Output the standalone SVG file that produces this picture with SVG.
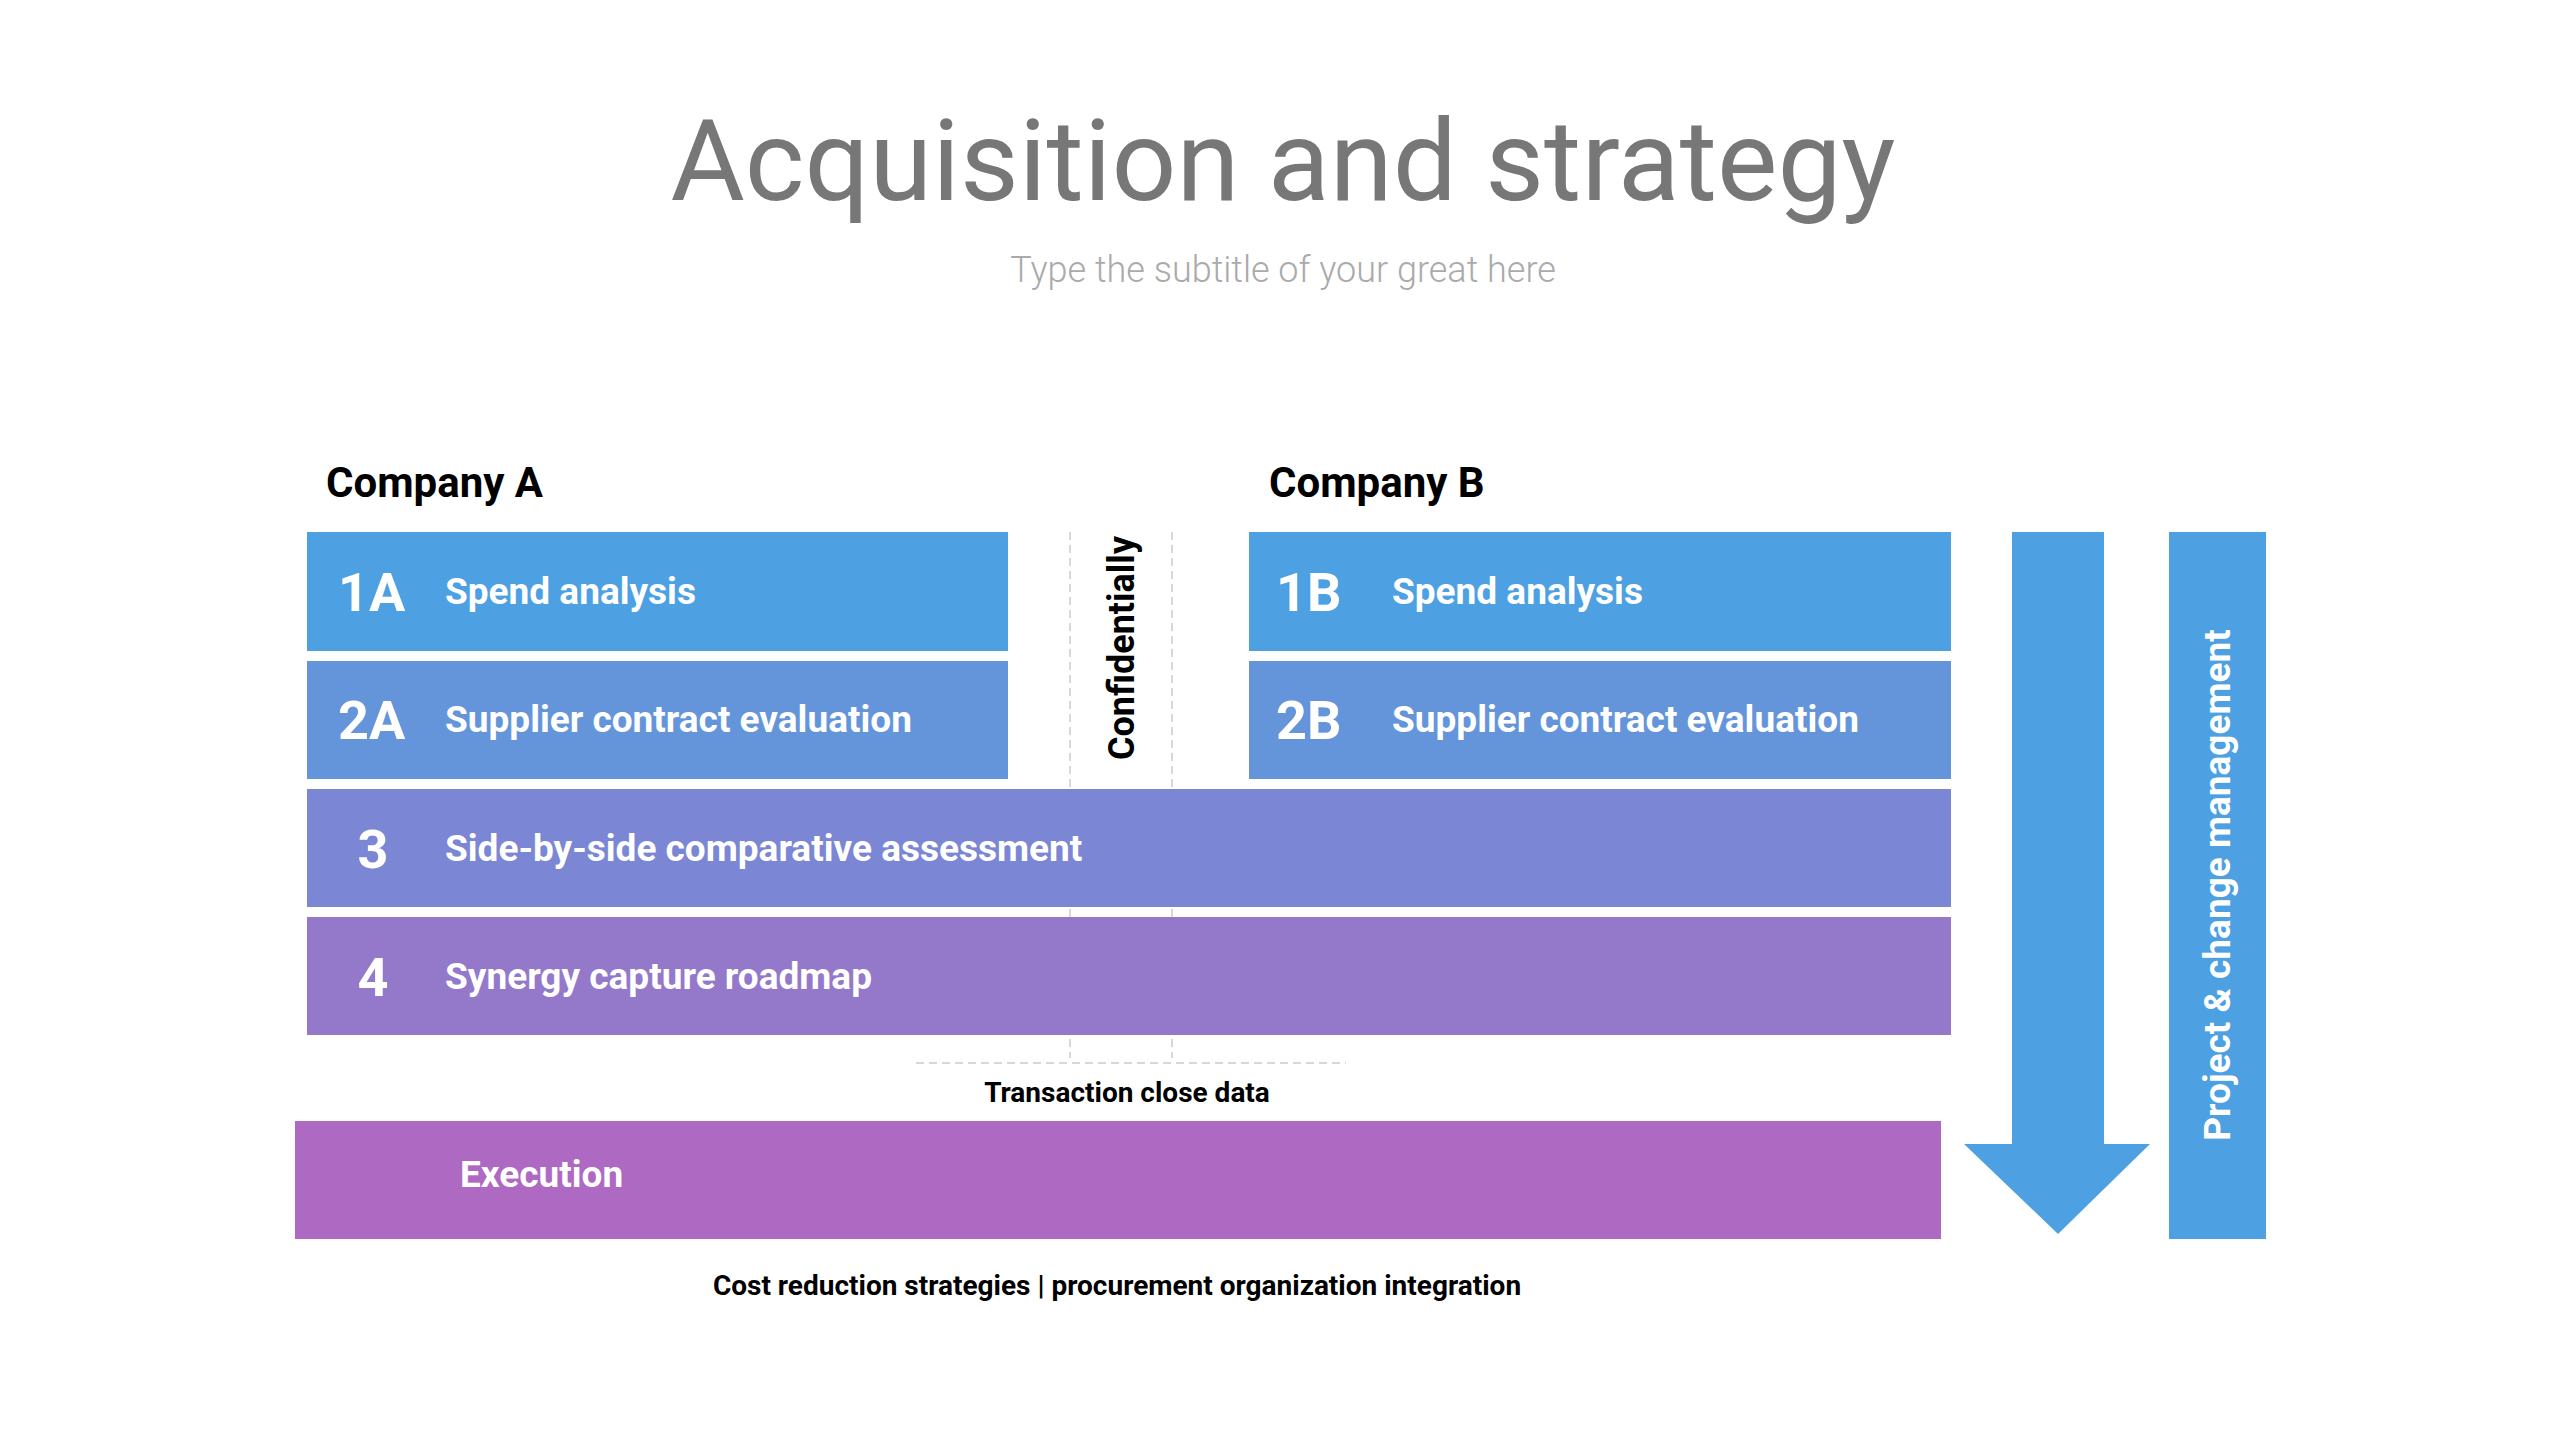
<svg xmlns="http://www.w3.org/2000/svg" width="2560" height="1440" viewBox="0 0 2560 1440">
<style>
.t{font-family:Roboto,"Liberation Sans",sans-serif}
.num{font-family:Roboto,sans-serif;font-weight:700;font-size:54px;fill:#fff}
.lbl{font-family:Roboto,sans-serif;font-weight:700;font-size:37px;fill:#fff}
.dash{stroke:#ccc;stroke-width:1.5;stroke-dasharray:8 5;fill:none}
</style>
<rect width="2560" height="1440" fill="#fff"/>
<text class="t" x="1283" y="200" text-anchor="middle" font-size="114" fill="#777">Acquisition and strategy</text>
<text class="t" x="1283" y="282" text-anchor="middle" font-size="36" fill="#aaa" font-weight="300">Type the subtitle of your great here</text>
<text class="t" x="326" y="497" font-size="42" font-weight="700" fill="#000">Company A</text>
<text class="t" x="1269" y="497" font-size="42" font-weight="700" fill="#000">Company B</text>
<g id="connectors">
<line class="dash" x1="1070" y1="532" x2="1070" y2="1058"/>
<line class="dash" x1="1172" y1="532" x2="1172" y2="1058"/>
<line class="dash" x1="916" y1="1063" x2="1346" y2="1063"/>
</g>
<g id="n1A"><rect x="307" y="532" width="701" height="119" fill="#4DA1E3"/><text class="num" x="338" y="611">1A</text><text class="lbl" x="445" y="604">Spend analysis</text></g>
<g id="n2A"><rect x="307" y="661" width="701" height="118" fill="#6495DB"/><text class="num" x="338" y="739">2A</text><text class="lbl" x="445" y="732">Supplier contract evaluation</text></g>
<g id="n1B"><rect x="1249" y="532" width="702" height="119" fill="#4DA1E3"/><text class="num" x="1276" y="611">1B</text><text class="lbl" x="1392" y="604">Spend analysis</text></g>
<g id="n2B"><rect x="1249" y="661" width="702" height="118" fill="#6495DB"/><text class="num" x="1276" y="739">2B</text><text class="lbl" x="1392" y="732">Supplier contract evaluation</text></g>
<g id="n3"><rect x="307" y="789" width="1644" height="118" fill="#7B87D4"/><text class="num" x="373" y="868" text-anchor="middle">3</text><text class="lbl" x="445" y="861">Side-by-side comparative assessment</text></g>
<g id="n4"><rect x="307" y="917" width="1644" height="118" fill="#9479CB"/><text class="num" x="373" y="996" text-anchor="middle">4</text><text class="lbl" x="445" y="989">Synergy capture roadmap</text></g>
<g id="confid"><text class="t" transform="translate(1134,648) rotate(-90)" text-anchor="middle" font-size="36" font-weight="700" fill="#000">Confidentially</text></g>
<text class="t" x="1127" y="1102" text-anchor="middle" font-size="28" font-weight="700" fill="#000">Transaction close data</text>
<g id="exec"><rect x="295" y="1121" width="1646" height="118" fill="#AE69C2"/><text class="lbl" x="460" y="1187">Execution</text></g>
<text class="t" x="1117" y="1295" text-anchor="middle" font-size="28" font-weight="700" fill="#000">Cost reduction strategies | procurement organization integration</text>
<g id="arrow"><polygon points="2012,532 2104,532 2104,1144 2150,1144 2058,1234 1964,1144 2012,1144" fill="#4DA1E3"/></g>
<g id="pcm"><rect x="2169" y="532" width="97" height="707" fill="#4DA1E3"/><text class="t" transform="translate(2230,885) rotate(-90)" text-anchor="middle" font-size="37" font-weight="700" fill="#fff">Project &amp; change management</text></g>
</svg>
